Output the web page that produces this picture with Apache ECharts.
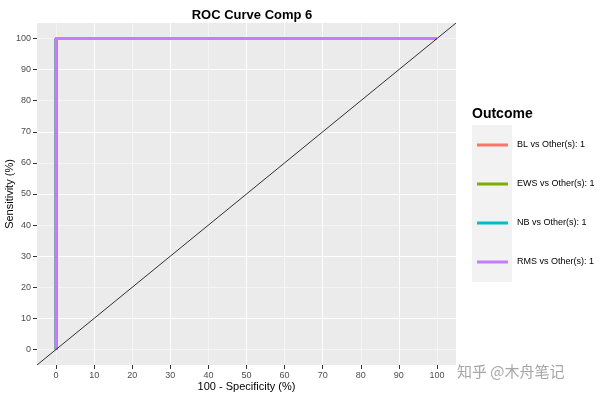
<!DOCTYPE html>
<html>
<head>
<meta charset="utf-8">
<script src="https://cdn.jsdelivr.net/npm/echarts@6/dist/echarts.min.js"></script>
<style>
  html, body { margin: 0; padding: 0; background: #fff; }
  #chart { width: 600px; height: 397px; }
</style>
</head>
<body>
<div id="chart"></div>
<script>
// ROC points: 100 - specificity (x) and sensitivity (y), all four curves the same
const outcomes = ['BL vs Other(s): 1', 'EWS vs Other(s): 1', 'NB vs Other(s): 1', 'RMS vs Other(s): 1']
const colors = ['#F8766D', '#7CAE00', '#00BFC4', '#C77CFF']
const rocX = [0, 0, 100]
const rocY = [0, 100, 100]
const diagX = [-5, 105]
const diagY = [-5, 105]
const tickValues = [0, 10, 20, 30, 40, 50, 60, 70, 80, 90, 100]

const chart = echarts.init(document.getElementById('chart'))

const axisCommon = {
  type: 'value',
  min: -5,
  max: 105,
  interval: 5,
  axisLine: { show: false, onZero: false },
  axisTick: { show: true, inside: false, length: 4, customValues: tickValues, lineStyle: { color: '#333333', width: 1 } },
  axisLabel: { customValues: tickValues, color: '#4D4D4D', fontSize: 9, fontFamily: 'Liberation Sans', margin: 6 },
  splitLine: { show: true, lineStyle: { color: ['#F5F5F5', '#FFFFFF'], width: 1 } },
  nameLocation: 'middle',
  nameMoveOverlap: false,
  nameTextStyle: { color: '#000', fontSize: 11, fontFamily: 'Liberation Sans' },
}

const rocSeries = outcomes.map((name, i) => ({
  name: name,
  type: 'line',
  data: rocX.map((x, j) => [x, rocY[j]]),
  showSymbol: false,
  lineStyle: { color: colors[i], width: 3 },
  itemStyle: { color: colors[i] },
  z: 2 + i,
}))

chart.setOption({
  animation: false,
  title: {
    text: 'ROC Curve Comp 6',
    left: 247,
    top: 4,
    textAlign: 'center',
    textStyle: { fontSize: 13, fontWeight: 'bold', color: '#000', fontFamily: 'Liberation Sans' },
  },
  grid: {
    left: 37, top: 23, width: 419, height: 342,
    containLabel: false, outerBoundsMode: 'none',
    backgroundColor: '#EBEBEB', show: true, borderWidth: 0,
  },
  xAxis: { ...axisCommon, name: '100 - Specificity (%)', nameGap: 16 },
  yAxis: { ...axisCommon, name: 'Sensitivity (%)', nameGap: 22 },
  legend: {
    orient: 'vertical',
    left: 477,
    top: 139,
    padding: 0,
    icon: 'rect',
    itemWidth: 31,
    itemHeight: 3,
    itemGap: 27,
    data: outcomes,
    textStyle: { fontSize: 9, color: '#000', fontFamily: 'Liberation Sans', lineHeight: 12, padding: [0, 0, 0, 4] },
  },
  graphic: [
    { type: 'rect', left: 472, top: 125, z: -1, shape: { width: 40, height: 157 }, style: { fill: '#F2F2F2' } },
    { type: 'text', left: 472, top: 107, style: { text: 'Outcome', fontSize: 14, fontWeight: 'bold', fill: '#000', fontFamily: 'Liberation Sans' } },
    { type: 'text', left: 457, top: 364, style: { text: '知乎 @木舟笔记', fontSize: 15, fill: '#A6A6A6', fontFamily: 'Noto Sans CJK SC' } },
  ],
  series: [
    ...rocSeries,
    {
      name: 'diag',
      type: 'line',
      data: diagX.map((x, j) => [x, diagY[j]]),
      showSymbol: false,
      lineStyle: { color: '#000', width: 0.8 },
      z: 10,
    },
  ],
})
</script>
</body>
</html>
